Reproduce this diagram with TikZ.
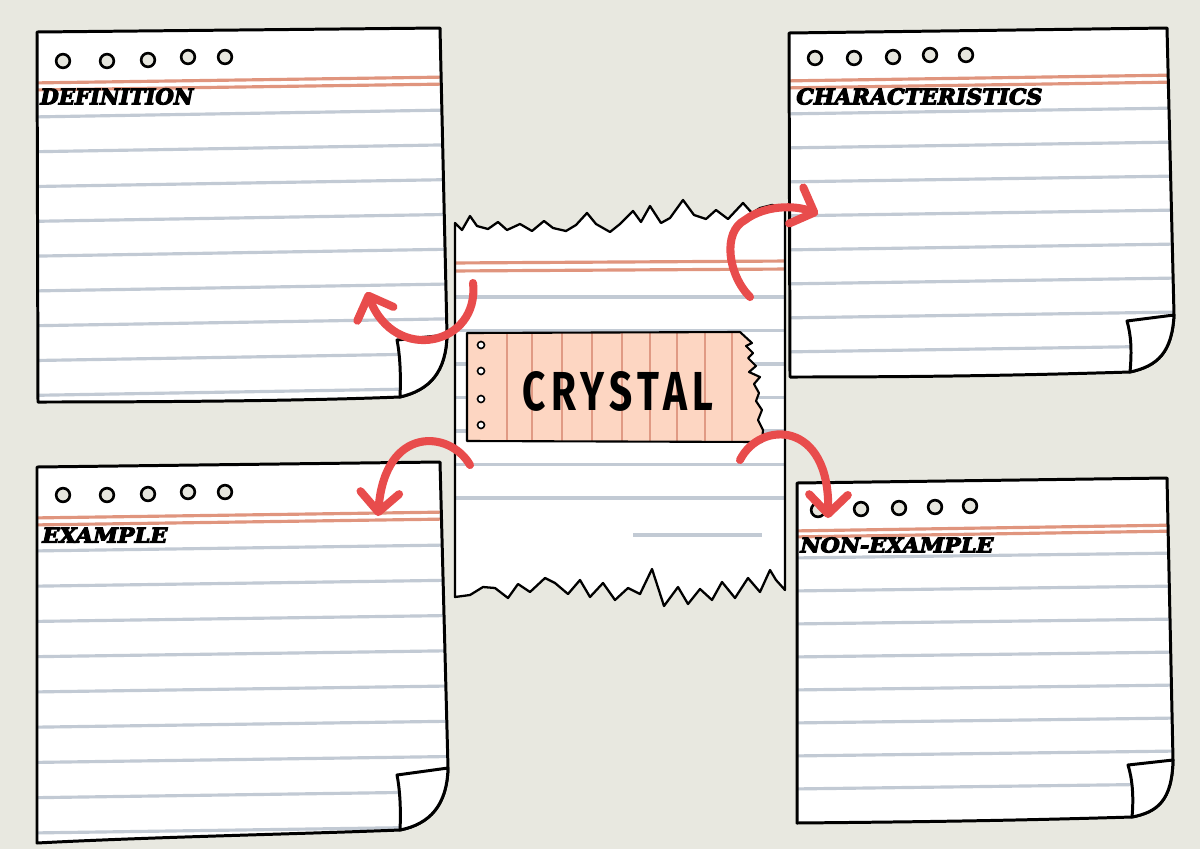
\documentclass[tikz,border=0pt]{standalone}
\usepackage{fontspec}
\usetikzlibrary{arrows.meta}
\newfontfamily\headfont[FakeBold=5]{DejaVu Serif}
\newfontfamily\tagfont[LetterSpace=14]{Fira Sans}
\newlength\px \setlength\px{0.02cm}
\definecolor{bg}{HTML}{E8E8E0}
\definecolor{rulec}{HTML}{C2CAD4}
\definecolor{redrule}{HTML}{E0957E}
\definecolor{arrowred}{HTML}{E84C4C}
\definecolor{tagfill}{HTML}{FDD6C2}
\definecolor{tagline}{HTML}{E09A84}
\definecolor{holec}{HTML}{E6E6DE}
\newcommand\NoteOne{(37,32) -- (440,28) -- (447,335) .. controls (446,372) and (430,390) .. (400,397) .. controls (300,401) and (150,402) .. (38,402) -- cycle}
\newcommand\FlapOne{(397,340) -- (447,335) .. controls (446,372) and (430,390) .. (400,397) .. controls (401,375) and (400,355) .. cycle}
\newcommand\NoteTwo{(789,33) -- (1167,28) -- (1174,315) .. controls (1172,352) and (1158,366) .. (1130,372) .. controls (1000,376) and (900,377) .. (790,377) -- cycle}
\newcommand\FlapTwo{(1127,321) -- (1174,315) .. controls (1172,352) and (1158,366) .. (1130,372) .. controls (1132,350) and (1131,335) .. cycle}
\newcommand\NoteThree{(37,467) -- (440,462) -- (448,768) .. controls (447,805) and (430,824) .. (400,830) .. controls (300,834) and (150,837) .. (37,843) -- cycle}
\newcommand\FlapThree{(397,775) -- (448,768) .. controls (447,805) and (430,824) .. (400,830) .. controls (401,810) and (400,790) .. cycle}
\newcommand\NoteFour{(797,483) -- (1167,478) -- (1173,760) .. controls (1172,800) and (1158,812) .. (1132,817) .. controls (1000,821) and (900,822) .. (797,823) -- cycle}
\newcommand\FlapFour{(1128,765) -- (1173,760) .. controls (1172,800) and (1158,812) .. (1132,817) .. controls (1134,795) and (1132,778) .. cycle}
\newcommand\CenterPaper{(455,223) -- (462,230) -- (470,216) -- (477,226) -- (488,229) -- (498,222) -- (507,230) -- (520,224) -- (532,231) -- (544,221) -- (553,228) -- (566,231) -- (576,225) -- (587,213) -- (596,224) -- (610,232) -- (620,224) -- (633,211) -- (641,222) -- (650,206) -- (661,223) -- (670,218) -- (683,200) -- (694,215) -- (706,219) -- (716,210) -- (728,219) -- (743,203) -- (752,213) -- (760,208) -- (772,205) -- (785,207) -- (785,590) -- (776,580) -- (770,570) -- (760,592) -- (748,578) -- (735,598) -- (722,582) -- (712,600) -- (700,589) -- (688,604) -- (678,587) -- (664,606) -- (652,569) -- (640,594) -- (628,588) -- (615,600) -- (603,583) -- (590,597) -- (580,580) -- (568,594) -- (555,583) -- (545,578) -- (530,592) -- (518,584) -- (508,598) -- (495,588) -- (483,587) -- (470,595) -- (455,597) -- cycle}
\newcommand\TagPath{(467,333) -- (740,332) -- (752,343) -- (746,346) -- (753,353) -- (748,358) -- (756,366) -- (749,372) -- (760,377) -- (754,384) -- (759,393) -- (756,401) -- (762,410) -- (758,420) -- (763,430) -- (762,442) -- (467,441) -- cycle}
\begin{document}
\begin{tikzpicture}[x=0.02cm,y=-0.02cm,
  paper/.style={fill=white, draw=black, line width=1.7pt, line join=round},
  outl/.style={draw=black, line width=1.7pt, line join=round},
  rl/.style={draw=rulec, line width=1.8pt},
  rr/.style={draw=redrule, line width=1.8pt},
  hole/.style={fill=holec, draw=black, line width=1.5pt},
  taghole/.style={fill=white, draw=black, line width=0.9pt},
  arr/.style={draw=arrowred, line width=4.6pt, line cap=round, -{Straight Barb[length=11pt,width=22pt,round]}},
  head/.style={anchor=south west, inner sep=0pt}]
\fill[bg] (0,0) rectangle (1200,849);
\useasboundingbox (0,0) rectangle (1200,849);
% ---------- Note 1: DEFINITION
\fill[white] \NoteOne;
\begin{scope}
\clip \NoteOne;
\draw[rr] (30,83) -- (450,77);
\draw[rr] (30,90) -- (450,84);
\foreach \k in {0,...,8} {\draw[rl] (30,117+34.8*\k) -- (450,110+34.8*\k);}
\end{scope}
\draw[outl] \NoteOne;
\filldraw[paper] \FlapOne;
\foreach \hx/\hy in {63/61,107/61,148/60,188/57,225/57} {\draw[hole] (\hx,\hy) circle[radius=3.9pt];}
\node[head] (tdef) at (40,105) {\resizebox{153\px}{16\px}{\headfont\bfseries\itshape DEFINITION}};
% ---------- Note 2: CHARACTERISTICS
\fill[white] \NoteTwo;
\begin{scope}
\clip \NoteTwo;
\draw[rr] (780,81) -- (1180,75);
\draw[rr] (780,88) -- (1180,82);
\foreach \k in {0,...,7} {\draw[rl] (780,114+34*\k) -- (1180,108+34*\k);}
\end{scope}
\draw[outl] \NoteTwo;
\filldraw[paper] \FlapTwo;
\foreach \hx/\hy in {815/58,854/58,893/57,930/55,966/55} {\draw[hole] (\hx,\hy) circle[radius=3.9pt];}
\node[head] (tchar) at (796,105) {\resizebox{246\px}{16\px}{\headfont\bfseries\itshape CHARACTERISTICS}};
% ---------- Note 3: EXAMPLE
\fill[white] \NoteThree;
\begin{scope}
\clip \NoteThree;
\draw[rr] (30,518) -- (450,512);
\draw[rr] (30,525) -- (450,519);
\foreach \k in {0,...,8} {\draw[rl] (30,551+35.25*\k) -- (450,545+35.25*\k);}
\end{scope}
\draw[outl] \NoteThree;
\filldraw[paper] \FlapThree;
\foreach \hx/\hy in {63/495,107/495,148/494,188/492,225/492} {\draw[hole] (\hx,\hy) circle[radius=3.9pt];}
\node[head] (tex) at (42,543) {\resizebox{125\px}{15\px}{\headfont\bfseries\itshape EXAMPLE}};
% ---------- Note 4: NON-EXAMPLE
\fill[white] \NoteFour;
\begin{scope}
\clip \NoteFour;
\draw[rr] (790,531) -- (1180,525);
\draw[rr] (790,537) -- (1180,531);
\foreach \k in {0,...,7} {\draw[rl] (790,558+33*\k) -- (1180,553+33*\k);}
\end{scope}
\draw[outl] \NoteFour;
\filldraw[paper] \FlapFour;
\foreach \hx/\hy in {818/510,861/509,899/508,935/507,970/506} {\draw[hole] (\hx,\hy) circle[radius=3.9pt];}
\node[head] (tnon) at (800,553) {\resizebox{193\px}{15\px}{\headfont\bfseries\itshape NON-EXAMPLE}};
% ---------- Centre torn paper
\fill[white] \CenterPaper;
\begin{scope}
\clip \CenterPaper;
\draw[rr] (450,263) -- (790,261);
\draw[rr] (450,271) -- (790,269);
\foreach \yy in {297,330.5,364,397.5,431,464.5,498} {\draw[rl] (450,\yy) -- (790,\yy);}
\draw[rl] (633,535) -- (762,535);
\end{scope}
\draw[draw=black, line width=1.3pt, line join=round] \CenterPaper;
% ---------- Tag
\fill[tagfill] \TagPath;
\begin{scope}
\clip \TagPath;
\foreach \xx in {507,532,562,592,622,650,677,705,732} {\draw[draw=tagline, line width=1.3pt] (\xx,325) -- (\xx,450);}
\end{scope}
\draw[draw=black, line width=1.2pt, line join=round] \TagPath;
\foreach \yy in {345,371,399,425} {\draw[taghole] (481,\yy) circle[radius=2pt];}
\node[head] (tcry) at (522,412) {\resizebox{191\px}{39\px}{\tagfont\bfseries CRYSTAL}};
% ---------- Arrows
\coordinate (aAs) at (473,283); \coordinate (aAe) at (367,292);
\coordinate (aBs) at (750,297); \coordinate (aBe) at (818,214);
\coordinate (aCs) at (470,465); \coordinate (aCe) at (378,516);
\coordinate (aDs) at (740,460); \coordinate (aDe) at (828,518);
\draw[arr] (aAs) .. controls (480,345) and (395,365) .. (aAe);
\draw[arr] (aBs) .. controls (728,275) and (722,232) .. (745,220) .. controls (765,205) and (795,205) .. (aBe);
\draw[arr] (aCs) .. controls (450,430) and (385,425) .. (aCe);
\draw[arr] (aDs) .. controls (760,420) and (830,420) .. (aDe);
\end{tikzpicture}
\end{document}
